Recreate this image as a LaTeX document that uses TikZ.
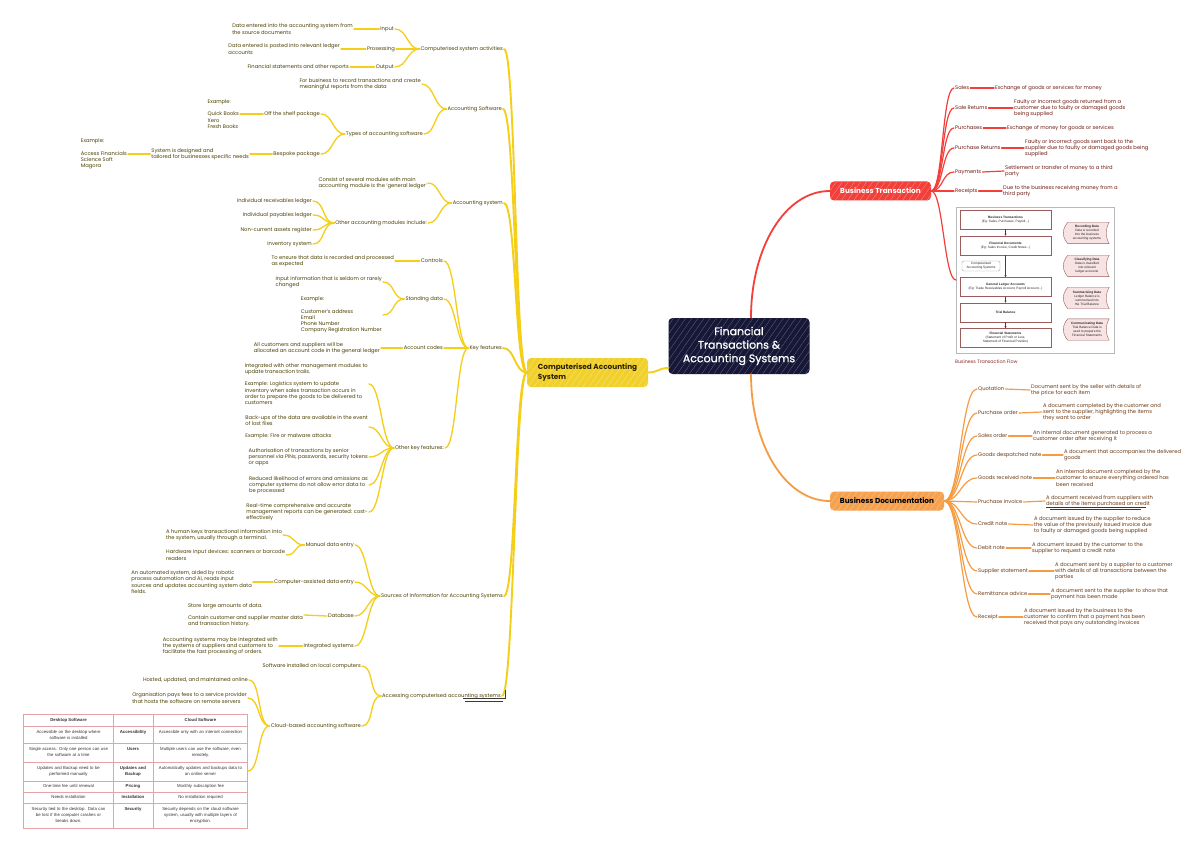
\documentclass[tikz,border=0pt]{standalone}
\usepackage{fontspec}
\setmainfont{Poppins}
\newfontfamily\tabfont{Liberation Sans}
\newfontfamily\titlefont{Poppins}[FakeBold=0.8]
\usetikzlibrary{arrows.meta,patterns.meta}
\pgfdeclarelayer{background}
\pgfsetlayers{background,main}

\definecolor{navyc}{HTML}{171738}
\definecolor{ylw}{HTML}{F4CE17}
\definecolor{ylwfill}{HTML}{F2D02B}
\definecolor{ytext}{HTML}{4A3F00}
\definecolor{castext}{HTML}{2A2200}
\definecolor{redc}{HTML}{F23F3A}
\definecolor{rtext}{HTML}{6E1A12}
\definecolor{orc}{HTML}{F59C42}
\definecolor{orfill}{HTML}{F5A14E}
\definecolor{otext}{HTML}{6B3812}
\definecolor{tblline}{HTML}{E6A2A8}
\definecolor{tbltext}{HTML}{333333}
\definecolor{flowbd}{HTML}{9C5C5C}
\definecolor{flowarr}{HTML}{8B2020}
\definecolor{tagfill}{HTML}{F7E3E3}
\definecolor{scribc}{HTML}{3A3A3A}
\definecolor{capc}{HTML}{8B2A2A}

\newcommand\fs{\fontsize{5.2}{6.2}\selectfont}
\newcommand\tfs{\tabfont\fontsize{4.3}{6.1}\selectfont}
\newcommand\ffs{\tabfont\fontsize{3.2}{4}\selectfont}

\newcommand\ytrunk[1]{\draw[ylt] (cas.west) .. controls +(-12,0) and +(12,0) .. (#1.east);}
\newcommand\ylk[2]{\draw[yl] (#1.west) .. controls +(-12,0) and +(12,0) .. (#2.east);}
\newcommand\yln[2]{\draw[yl] (#1.west) -- (#2.east);}
\newcommand\rlk[2]{\draw[rl] (#1.east) .. controls +(12,0) and +(-12,0) .. (#2.west);}
\newcommand\rln[2]{\draw[rl] (#1.east) -- (#2.west);}
\newcommand\olk[2]{\draw[ol] (#1.east) .. controls +(16,0) and +(-16,0) .. (#2.west);}
\newcommand\oln[2]{\draw[ol] (#1.east) -- (#2.west);}
\newcommand\tagshape[1]{\path[fill=tagfill, draw=flowbd, line width=0.4pt] ([xshift=3pt]#1.north west) -- (#1.north east) .. controls +(-4,7) and +(-4,-7) .. (#1.south east) -- ([xshift=3pt]#1.south west) .. controls +(-6,-7) and +(-6,7) .. ([xshift=3pt]#1.north west) -- cycle;}

\tikzset{
  txt/.style={inner sep=1pt, align=left, font=\fs},
  yt/.style={txt, text=ytext, anchor=east},
  rt/.style={txt, text=rtext, anchor=west},
  ot/.style={txt, text=otext, anchor=west},
  yl/.style={draw=ylw, line width=1.3pt, line cap=round},
  ylt/.style={draw=ylw, line width=1.9pt, line cap=round},
  rl/.style={draw=redc, line width=1.2pt, line cap=round},
  ol/.style={draw=orc, line width=1.2pt, line cap=round},
  hatch/.style={postaction={pattern={Lines[angle=55,distance=5pt,line width=0.3pt]}, pattern color=#1}},
  tcell/.style={font=\tfs, text=tbltext, align=center, inner sep=0pt, anchor=north},
  tgrid/.style={draw=tblline, line width=0.6pt},
  fbox/.style={draw=flowbd, fill=white, line width=0.5pt, minimum width=91pt, minimum height=19pt, inner sep=0.5pt, align=center, font=\ffs, text=black!85},
  tagn/.style={minimum width=44pt, minimum height=21pt, inner sep=0pt, align=center, font=\ffs, text=black!85},
  farrow/.style={draw=flowarr, line width=0.4pt, -{Stealth[length=2pt,width=2pt]}},
  scrib/.style={draw=scribc, line width=0.6pt}
}

\begin{document}
\begin{tikzpicture}[x=1pt,y=-1pt]
\begin{pgfonlayer}{background}
\fill[white] (0,0) rectangle (1200,853);
\end{pgfonlayer}
\path[use as bounding box] (0,0) rectangle (1200,853);

% ---------------- main nodes
\node[fill=navyc, rounded corners=4pt, minimum width=141pt, minimum height=56pt, text=white, align=center,
      font=\titlefont\fontsize{11}{13.5}\selectfont, hatch=white!35!navyc] (root) at (739,346) {Financial\\Transactions \&\\Accounting Systems};
\node[fill=ylwfill, rounded corners=4pt, minimum width=121pt, minimum height=29pt, text=castext, align=left,
      font=\fontsize{7.3}{9.8}\selectfont\bfseries, hatch=white!45!ylwfill] (cas) at (587.5,372.5) {Computerised Accounting\\System};
\node[fill=redc, rounded corners=4pt, minimum width=101pt, minimum height=19pt, text=white,
      font=\fontsize{7.3}{9}\selectfont\bfseries, hatch=white!45!redc] (bt) at (880.5,191) {Business Transaction};
\node[fill=orfill, rounded corners=4pt, minimum width=114pt, minimum height=19pt, text=black,
      font=\fontsize{7.3}{9}\selectfont\bfseries, hatch=white!45!orfill] (bd) at (887,501) {Business Documentation};

\draw[ylt] (cas.east) .. controls +(10,0) and +(-10,0) .. ([yshift=-22pt]root.west);
\draw[rl, line width=1.8pt] ([xshift=12pt]root.north) .. controls +(0,-70) and +(-45,0) .. (bt.west);
\draw[ol, line width=1.8pt] ([xshift=12pt]root.south) .. controls +(0,70) and +(-45,0) .. (bd.west);

% ---------------- yellow branch
\node[yt] (cact) at (504,49) {Computerised system activities};
\node[yt] (inl) at (395,29) {Input};
\node[yt] (inT) at (354,29) {Data entered into the accounting system from\\the source documents};
\node[yt] (proc) at (396,49) {Prosessing};
\node[yt] (procT) at (341,49) {Data entered is posted into relevant ledger\\accounts};
\node[yt] (outp) at (395,67) {Output};
\node[yt] (outT) at (350,67) {Financial statements and other reports};

\node[yt] (asw) at (503,109) {Accounting Software};
\node[yt] (aswT) at (422,84) {For business to record transactions and create\\meaningful reports from the data};
\node[yt] (types) at (424,134) {Types of accounting software};
\node[yt] (ots) at (321,114) {Off the shelf package};
\node[yt] (otsT) at (240,114) {Example:\\[6.2pt]Quick Books\\Xero\\Fresh Books};
\node[yt] (besp) at (321,154) {Bespoke package};
\node[yt] (bespT) at (250,154) {System is designed and\\tailored for businesses specific needs};
\node[yt] (bespE) at (128,154) {Example:\\[6.2pt]Access Financials\\Science Soft\\Magora};

\node[yt] (asys) at (504,203) {Accounting system};
\node[yt] (asysT) at (428,183) {Consist of several modules with main\\accounting module is the ‘general ledger’};
\node[yt] (oam) at (428,223) {Other accounting modules include:};
\node[yt] (irl) at (313,201) {Individual receivables ledger};
\node[yt] (ipl) at (313,215) {Individual payables ledger};
\node[yt] (ncar) at (313,230) {Non-current assets register};
\node[yt] (invs) at (313,244) {Inventory system};

\node[yt] (kf) at (503,348) {Key features};
\node[yt] (ctrl) at (444,261) {Controls};
\node[yt] (ctrlT) at (395,261) {To ensure that data is recorded and processed\\as expected};
\node[yt] (sd) at (444,299) {Standing data};
\node[yt] (sdT) at (383,282) {Input information that is seldom or rarely\\changed};
\node[yt] (sdE) at (383,315) {Example:\\[6.2pt]Customer’s address\\Email\\Phone Number\\Company Registration Number};
\node[yt] (acd) at (444,348) {Account codes};
\node[yt] (acdT) at (381,348) {All customers and suppliers will be\\allocated an account code in the general ledger};
\node[yt] (okf) at (445,448) {Other key features:};
\node[yt] (okf1) at (369,384) {Integrated with other management modules to\\update transaction trails.\\[6.2pt]Example: Logistics system to update\\inventory when sales transaction occurs in\\order to prepare the goods to be delivered to\\customers};
\node[yt] (okf2) at (369,427) {Back-ups of the data are available in the event\\of lost files\\[6.2pt]Example: Fire or malware attacks};
\node[yt] (okf3) at (369,457) {Authorisation of transactions by senior\\personnel via PINs, passwords, security tokens\\or apps};
\node[yt] (okf4) at (369,485) {Reduced likelihood of errors and omissions as\\computer systems do not allow error data to\\be processed};
\node[yt] (okf5) at (369,512) {Real-time comprehensive and accurate\\management reports can be generated: cost-\\effectively};

\node[yt] (src) at (504,596) {Sources of Information for Accounting Systems};
\node[yt] (mde) at (355,545) {Manual data entry};
\node[yt, anchor=west] (mde1) at (165,535) {A human keys transactional information into\\the system, usually through a terminal.};
\node[yt, anchor=west] (mde2) at (165,555) {Hardware input devices: scanners or barcode\\readers};
\node[yt] (cade) at (355,582) {Computer-assisted data entry};
\node[yt] (cadeT) at (253,582) {An automated system, aided by robotic\\process automation and AI, reads input\\sources and updates accounting system data\\fields.};
\node[yt] (db) at (355,616) {Database};
\node[yt] (dbT) at (304,615) {Store large amounts of data.\\[6.2pt]Contain customer and supplier master data\\and transaction history.};
\node[yt] (isy) at (355,646) {Integrated systems};
\node[yt] (isyT) at (279,646) {Accounting systems may be integrated with\\the systems of suppliers and customers to\\facilitate the fast processing of orders.};

\node[yt] (acc) at (502,696) {Accessing computerised accounting systems};
\node[yt] (slc) at (362,666) {Software installed on local computers};
\node[yt] (cbs) at (362,726) {Cloud-based accounting software};
\node[yt] (hst) at (249,680) {Hosted, updated, and maintained online};
\node[yt] (ops) at (248,698) {Organisation pays fees to a service provider\\that hosts the software on remote servers};

% table
\node[draw=tblline, line width=0.6pt, anchor=east, minimum width=224pt, minimum height=114pt, inner sep=0pt] (tbl) at (248,771) {};
\draw[tgrid] (113,714) -- (113,828);
\draw[tgrid] (153,714) -- (153,828);
\foreach \ry in {726,743,762,781,792,803} {\draw[tgrid] (24,\ry) -- (248,\ry);}
\node[tcell, anchor=center, font=\tfs\bfseries] (th1) at (68.5,720) {Desktop Software};
\node[tcell, anchor=center, font=\tfs\bfseries] (th3) at (200.5,720) {Cloud Software};
\node[tcell, text width=86pt] (t11) at (68.5,730) {Accessible on the desktop where\\software is installed};
\node[tcell, text width=38pt, font=\tfs\bfseries] (t12) at (133,730) {Accessibility};
\node[tcell, text width=93pt] (t13) at (200.5,730) {Accessible only with an internet connection};
\node[tcell, text width=86pt] (t21) at (68.5,747) {Single access. Only one person can use\\the software at a time};
\node[tcell, text width=38pt, font=\tfs\bfseries] (t22) at (133,747) {Users};
\node[tcell, text width=93pt] (t23) at (200.5,747) {Multiple users can use the software, even\\remotely.};
\node[tcell, text width=86pt] (t31) at (68.5,766) {Updates and Backup need to be\\performed manually};
\node[tcell, text width=38pt, font=\tfs\bfseries] (t32) at (133,766) {Updates and\\Backup};
\node[tcell, text width=93pt] (t33) at (200.5,766) {Automatically updates and backups data to\\an online server};
\node[tcell, text width=86pt] (t41) at (68.5,784.5) {One-time fee until renewal};
\node[tcell, text width=38pt, font=\tfs\bfseries] (t42) at (133,784.5) {Pricing};
\node[tcell, text width=93pt] (t43) at (200.5,784.5) {Monthly subscription fee};
\node[tcell, text width=86pt] (t51) at (68.5,795.5) {Needs installation};
\node[tcell, text width=38pt, font=\tfs\bfseries] (t52) at (133,795.5) {Installation};
\node[tcell, text width=93pt] (t53) at (200.5,795.5) {No installation required};
\node[tcell, text width=86pt] (t61) at (68.5,807) {Security tied to the desktop. Data can\\be lost if the computer crashes or\\breaks down.};
\node[tcell, text width=38pt, font=\tfs\bfseries] (t62) at (133,807) {Security};
\node[tcell, text width=93pt] (t63) at (200.5,807) {Security depends on the cloud software\\system, usually with multiple layers of\\encryption.};

% yellow connectors
\ytrunk{cact} \ytrunk{asw} \ytrunk{asys} \ytrunk{kf} \ytrunk{src} \ytrunk{acc}
\ylk{cact}{inl} \ylk{cact}{proc} \ylk{cact}{outp}
\yln{inl}{inT} \yln{proc}{procT} \yln{outp}{outT}
\ylk{asw}{aswT} \ylk{asw}{types}
\ylk{types}{ots} \ylk{types}{besp}
\yln{ots}{otsT} \yln{besp}{bespT} \yln{bespT}{bespE}
\ylk{asys}{asysT} \ylk{asys}{oam}
\ylk{oam}{irl} \ylk{oam}{ipl} \ylk{oam}{ncar} \ylk{oam}{invs}
\ylk{kf}{ctrl} \ylk{kf}{sd} \ylk{kf}{acd} \ylk{kf}{okf}
\yln{ctrl}{ctrlT} \ylk{sd}{sdT} \ylk{sd}{sdE} \yln{acd}{acdT}
\ylk{okf}{okf1} \ylk{okf}{okf2} \ylk{okf}{okf3} \ylk{okf}{okf4} \ylk{okf}{okf5}
\ylk{src}{mde} \ylk{src}{cade} \ylk{src}{db} \ylk{src}{isy}
\ylk{mde}{mde1} \ylk{mde}{mde2} \yln{cade}{cadeT} \yln{db}{dbT} \yln{isy}{isyT}
\ylk{acc}{slc} \ylk{acc}{cbs}
\ylk{cbs}{hst} \ylk{cbs}{ops} \ylk{cbs}{tbl}

\draw[scrib] (463,698.5) -- (505,698.5) -- (505,690);
\draw[scrib] (465,701) -- (503,701);

% ---------------- red branch
\node[rt] (sales) at (954,88) {Sales};
\node[rt] (salesT) at (994,88) {Exchange of goods or services for money};
\node[rt] (sr) at (954,108) {Sale Returns};
\node[rt] (srT) at (1013,108) {Faulty or incorrect goods returned from a\\customer due to faulty or damaged goods\\being supplied};
\node[rt] (pur) at (954,128) {Purchases};
\node[rt] (purT) at (1006,128) {Exchange of money for goods or services};
\node[rt] (prr) at (954,148) {Purchase Returns};
\node[rt] (prrT) at (1024,148) {Faulty or incorrect goods sent back to the\\supplier due to faulty or damaged goods being\\supplied};
\node[rt] (pay) at (954,172) {Payments};
\node[rt] (payT) at (1004,171) {Settlement or transfer of money to a third\\party};
\node[rt] (rec) at (954,191) {Receipts};
\node[rt] (recT) at (1002,191) {Due to the business receiving money from a\\third party};

\node[draw=gray!55, line width=0.5pt, minimum width=158pt, minimum height=146pt, anchor=west, inner sep=0pt] (flow) at (956,280) {};
\node[fbox] (fb1) at (1005.5,219.5) {{\bfseries Business Transactions}\\(Eg: Sales, Purchases, Payroll...)};
\node[fbox] (fb2) at (1005.5,245.5) {{\bfseries Financial Documents}\\(Eg: Sales Invoice, Credit Notes...)};
\node[draw=gray!70, rounded corners=1.5pt, fill=white, line width=0.4pt, minimum width=38pt, minimum height=10pt, inner sep=0.5pt, align=center, font=\ffs, text=black!85] (fcas) at (981,266) {Computerised\\Accounting Systems};
\node[fbox] (fb3) at (1005.5,287) {{\bfseries General Ledger Accounts}\\(Eg: Trade Receivables Account, Payroll Account...)};
\node[fbox] (fb4) at (1005.5,312.5) {{\bfseries Trial Balance}};
\node[fbox] (fb5) at (1005.5,338) {{\bfseries Financial Statements}\\(Statement of Profit or Loss,\\Statement of Financial Position)};
\draw[farrow] (fb1.south) -- (fb2.north);
\draw[farrow] (fb2.south) -- (fb3.north);
\draw[farrow] (fb3.south) -- (fb4.north);
\draw[farrow] (fb4.south) -- (fb5.north);
\node[tagn] (tg1) at (1087,233) {{\bfseries Recording Data}\\Data is recorded\\into the business\\accounting systems};
\node[tagn] (tg2) at (1087,266) {{\bfseries Classifying Data}\\Data is classified\\into relevant\\ledger accounts};
\node[tagn] (tg3) at (1087,298) {{\bfseries Summarising Data}\\Ledger Balance is\\summarised into\\the Trial Balance};
\node[tagn] (tg4) at (1087,329.5) {{\bfseries Communicating Data}\\Trial Balance Data is\\used to prepare the\\Financial Statements};
\begin{pgfonlayer}{background}
\tagshape{tg1} \tagshape{tg2} \tagshape{tg3} \tagshape{tg4}
\end{pgfonlayer}
\node[anchor=west, inner sep=0pt, text=capc, font=\fontsize{4.8}{6}\selectfont] (cap) at (955,362) {Business Transaction Flow};

\rlk{bt}{sales} \rlk{bt}{sr} \rlk{bt}{pur} \rlk{bt}{prr} \rlk{bt}{pay} \rlk{bt}{rec} \rlk{bt}{flow}
\rln{sales}{salesT} \rln{sr}{srT} \rln{pur}{purT} \rln{prr}{prrT} \rln{pay}{payT} \rln{rec}{recT}

% ---------------- orange branch
\node[ot] (quo) at (977,389) {Quotation};
\node[ot] (quoT) at (1030,390) {Document sent by the seller with details of\\the price for each item};
\node[ot] (po) at (977,413) {Purchase order};
\node[ot] (poT) at (1042,412) {A document completed by the customer and\\sent to the supplier, highlighting the items\\they want to order};
\node[ot] (so) at (977,436) {Sales order};
\node[ot] (soT) at (1032,436) {An internal document generated to process a\\customer order after receiving it};
\node[ot] (gdn) at (977,455) {Goods despatched note};
\node[ot] (gdnT) at (1063,455) {A document that accompanies the delivered\\goods};
\node[ot] (grn) at (977,478) {Goods received note};
\node[ot] (grnT) at (1055,478) {An internal document completed by the\\customer to ensure everything ordered has\\been received};
\node[ot] (pinv) at (977,502) {Pruchase invoice};
\node[ot] (pinvT) at (1045,501) {A document received from suppliers with\\details of the items purchased on credit};
\node[ot] (cn) at (977,524) {Credit note};
\node[ot] (cnT) at (1033,525) {A document issued by the supplier to reduce\\the value of the previously issued invoice due\\to faulty or damaged goods being supplied};
\node[ot] (dn) at (977,548) {Debit note};
\node[ot] (dnT) at (1031,548) {A document issued by the customer to the\\supplier to request a credit note};
\node[ot] (sst) at (977,571) {Supplier statement};
\node[ot] (sstT) at (1054,571) {A document sent by a supplier to a customer\\with details of all transactions between the\\parties};
\node[ot] (ra) at (977,594) {Remittance advice};
\node[ot] (raT) at (1050,594) {A document sent to the supplier to show that\\payment has been made};
\node[ot] (rcp) at (977,617) {Receipt};
\node[ot] (rcpT) at (1023,617) {A document issued by the business to the\\customer to confirm that a payment has been\\received that pays any outstanding invoices};

\olk{bd}{quo} \olk{bd}{po} \olk{bd}{so} \olk{bd}{gdn} \olk{bd}{grn} \olk{bd}{pinv}
\olk{bd}{cn} \olk{bd}{dn} \olk{bd}{sst} \olk{bd}{ra} \olk{bd}{rcp}
\oln{quo}{quoT} \oln{po}{poT} \oln{so}{soT} \oln{gdn}{gdnT} \oln{grn}{grnT} \oln{pinv}{pinvT}
\oln{cn}{cnT} \oln{dn}{dnT} \oln{sst}{sstT} \oln{ra}{raT} \oln{rcp}{rcpT}

\draw[scrib] (1046,507.5) -- (1146,507.5);
\draw[scrib] (1050,509.5) -- (1141,509.5);

\end{tikzpicture}
\end{document}
